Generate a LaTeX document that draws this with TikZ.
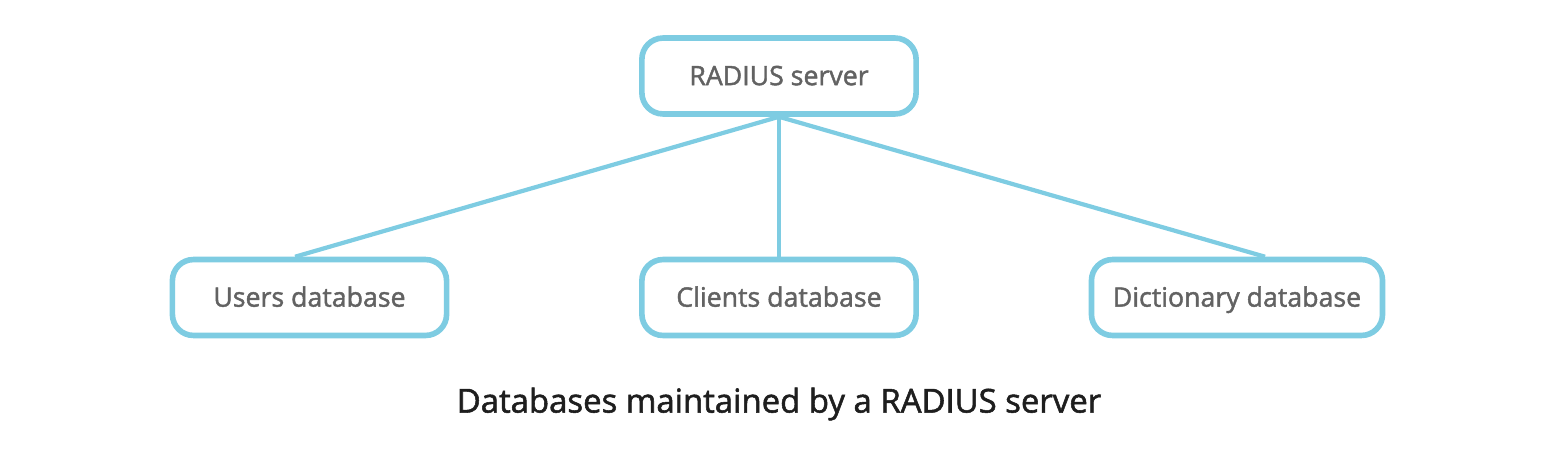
\documentclass[tikz,border=0pt]{standalone}
\usepackage{fontspec}
\setmainfont{Open Sans}
\newfontfamily\semifont[FakeBold=1.6]{Open Sans}
\usepackage{tikz}
\usetikzlibrary{positioning,calc}
\definecolor{link}{RGB}{126,204,226}
\definecolor{label}{RGB}{98,98,98}
\definecolor{capt}{RGB}{30,30,30}
\tikzset{
  dbbox/.style={draw=link, line width=4pt, rounded corners=15pt, fill=white,
    minimum height=54pt, text=label, text height=15pt, text depth=2pt,
    font=\semifont\fontsize{19}{21}\selectfont},
  wire/.style={draw=link, line width=3pt}
}

\begin{document}
\begin{tikzpicture}[x=0.025cm, y=-0.025cm]
\useasboundingbox (0,0) rectangle (1560,461);
% ---- server on top
\node[dbbox, minimum width=195pt] (server) at (779,76) {RADIUS server};
% ---- the three databases
\node[dbbox, minimum width=195pt] (users) at (309.5,297.5) {Users database};
\node[dbbox, minimum width=195pt] (clients) at (779,297.5) {Clients database};
\node[dbbox, minimum width=207pt] (dict) at (1237,297.5) {Dictionary database};
\draw[wire] (server.south) -- ([xshift=-0.36cm]users.north);
\draw[wire] (server.south) -- (clients.north);
\draw[wire] (server.south) -- ([xshift=0.7cm]dict.north);
% ---- caption
\node[text=capt, font=\semifont\fontsize{23.4}{26}\selectfont] (caption) at (779,404)
  {Databases maintained by a RADIUS server};
\end{tikzpicture}
\end{document}
